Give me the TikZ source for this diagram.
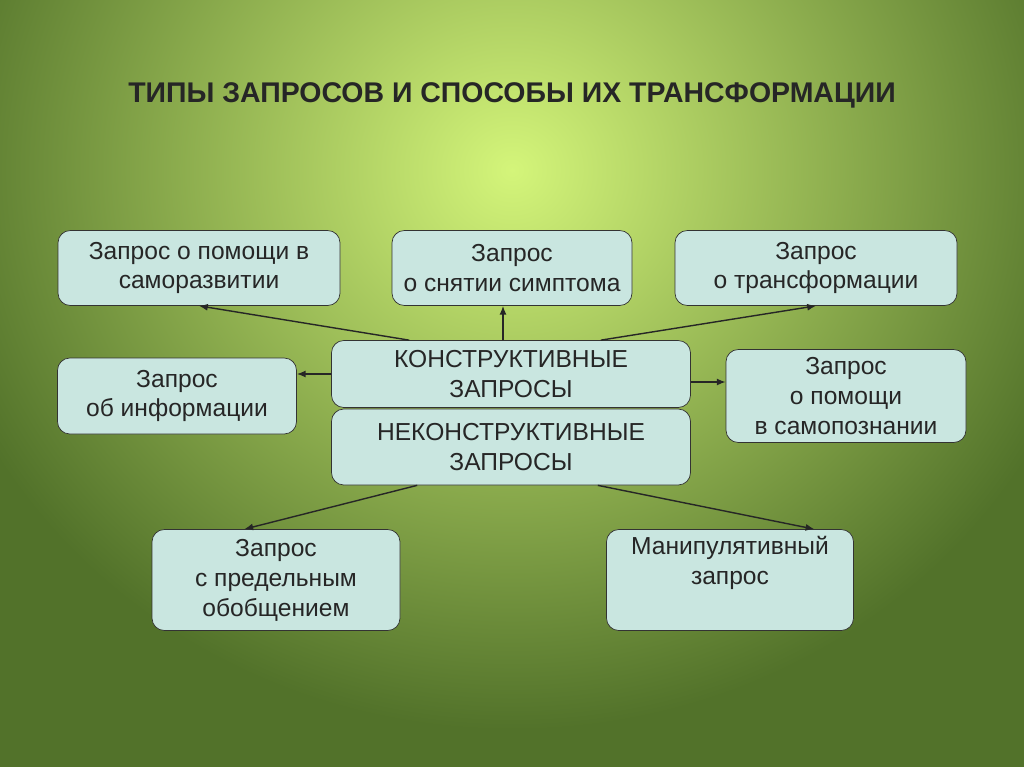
\documentclass[tikz,border=0pt]{standalone}
\usepackage{fontspec}
\setmainfont{Liberation Sans}
\usetikzlibrary{positioning,arrows.meta}
\definecolor{boxfill}{HTML}{C9E6E0}
\definecolor{bgin}{HTML}{D4F57A}
\definecolor{bgout}{HTML}{52722A}
\tikzset{
  req/.style={draw=black!80, fill=boxfill, rounded corners=7pt, align=center,
    font=\fontsize{14}{17}\selectfont, text=black!85, inner sep=0pt},
  link/.style={-{Latex[length=5pt,width=4pt]}, thick, black!85}
}
\begin{document}
\begin{tikzpicture}[x=0.02cm, y=-0.02cm]
    % Background
    \clip (0,0) rectangle (1024,767);
    \fill[bgout] (0,0) rectangle (1024,767);
    \shade[inner color=bgin, outer color=bgout] (512,170) ellipse (600 and 560);
    \node[font=\bfseries\fontsize{16.2}{19}\selectfont, text=black!85] (title) at (512,95) {ТИПЫ ЗАПРОСОВ И СПОСОБЫ ИХ ТРАНСФОРМАЦИИ};

    % Boxes
    \node[req, minimum width=282*0.02cm, minimum height=75*0.02cm] (self) at (199,268) {Запрос о помощи в\\саморазвитии};
    \node[req, minimum width=240*0.02cm, minimum height=75*0.02cm] (symp) at (512,268) {Запрос\\о снятии симптома};
    \node[req, minimum width=282*0.02cm, minimum height=75*0.02cm] (trans) at (816,268) {Запрос\\о трансформации};
    \node[req, minimum width=239*0.02cm, minimum height=76*0.02cm] (info) at (177,396) {Запрос\\об информации};
    \node[req, minimum width=359*0.02cm, minimum height=67*0.02cm] (constr) at (511,374) {КОНСТРУКТИВНЫЕ\\ЗАПРОСЫ};
    \node[req, minimum width=359*0.02cm, minimum height=76*0.02cm] (nonconstr) at (511,447) {НЕКОНСТРУКТИВНЫЕ\\ЗАПРОСЫ};
    \node[req, minimum width=240*0.02cm, minimum height=93*0.02cm] (cogn) at (846,396) {Запрос\\о помощи\\в самопознании};
    \node[req, minimum width=248*0.02cm, minimum height=101*0.02cm] (limit) at (276,580) {Запрос\\с предельным\\обобщением};
    \node[req, minimum width=247*0.02cm, minimum height=101*0.02cm, text depth=40*0.02cm] (manip) at (730,580) {Манипулятивный\\запрос};

    % Connectors
    \draw[link] (constr.north west) ++(78,0) coordinate (c1) -- (self.south);
    \draw[link] (constr.north) ++(-8,0) coordinate (c2) -- (symp.south -| c2);
    \draw[link] (constr.north east) ++(-90,0) coordinate (c3) -- (trans.south);
    \draw[link] (constr.west) -- (info.east |- constr.west);
    \draw[link] (constr.east) ++(0,8) coordinate (c4) -- (cogn.west |- c4);
    \draw[link] (nonconstr.south west) ++(86,0) coordinate (n1) -- ([xshift=-18]limit.north);
    \draw[link] (nonconstr.south east) ++(-93,0) coordinate (n2) -- ([xshift=48]manip.north);
\end{tikzpicture}
\end{document}
